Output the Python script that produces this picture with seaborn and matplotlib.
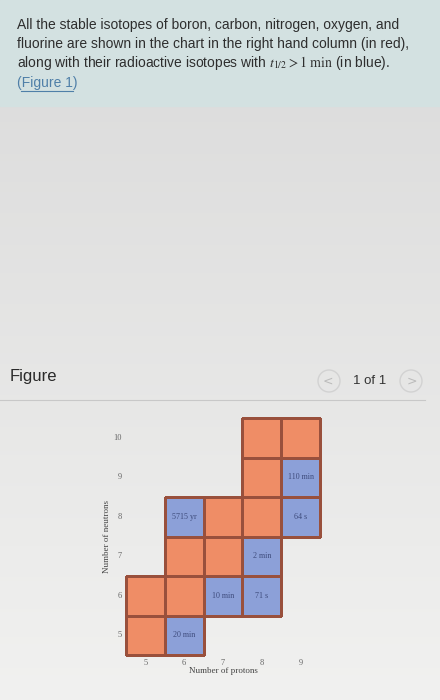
import seaborn as sns
import pandas as pd
import numpy as np
import matplotlib.pyplot as plt
from matplotlib.colors import ListedColormap, to_rgba
from matplotlib.patches import Circle, Rectangle

# Data: stable isotopes (red) and radioactive isotopes with t1/2 > 1 min (blue)
protons = [5, 6, 7, 8, 9]
neutrons = [10, 9, 8, 7, 6, 5]
stable_z = [5, 5, 6, 6, 7, 7, 8, 8, 8, 9]
stable_n = [5, 6, 6, 7, 7, 8, 8, 9, 10, 10]
radio_z = [6, 6, 7, 8, 8, 9, 9]
radio_n = [5, 8, 6, 6, 7, 8, 9]
half_lives = ["20 min", "5715 yr", "10 min", "71 s", "2 min", "64 s", "110 min"]

orange = "#EF8D66"
blue = "#8CA0D8"
edge = "#99503C"

rows = [{"Z": z, "N": n, "kind": 0, "label": ""} for z, n in zip(stable_z, stable_n)]
rows += [{"Z": z, "N": n, "kind": 1, "label": h} for z, n, h in zip(radio_z, radio_n, half_lives)]
df = pd.DataFrame(rows)
kind = df.pivot(index="N", columns="Z", values="kind").reindex(index=neutrons, columns=protons)
labels = df.pivot(index="N", columns="Z", values="label").reindex(index=neutrons, columns=protons).fillna("")

W, H = 440, 700
fig = plt.figure(figsize=(W / 100, H / 100), dpi=100)

# page background (photo of a screen)
bg = fig.add_axes([0, 0, 1, 1])
grad = np.linspace(0, 1, 200)
page = np.ones((200, 1, 3))
top = np.array([0.855, 0.855, 0.855])
bottom = np.array([0.945, 0.945, 0.94])
for i in range(3):
    page[:, 0, i] = top[i] + (bottom[i] - top[i]) * grad
bg.imshow(page, aspect="auto", extent=[0, W, H, 0])
bg.add_patch(Rectangle((0, 0), W, 106, color="#D3E1E1", zorder=2))
bg.plot([0, 425], [400, 400], color="#C8C8C8", lw=0.8, zorder=3)
bg.add_patch(Circle((329, 381), 11, fill=False, ec="#D2D2D2", lw=1.0, zorder=3))
bg.add_patch(Circle((411, 381), 11, fill=False, ec="#D2D2D2", lw=1.0, zorder=3))
bg.text(328, 381, "<", ha="center", va="center", color="#BBBBBB", fontsize=9, zorder=4)
bg.text(412, 381, ">", ha="center", va="center", color="#BBBBBB", fontsize=9, zorder=4)
bg.set_xlim(0, W)
bg.set_ylim(H, 0)
bg.axis("off")

plt.rcParams["mathtext.fontset"] = "stix"
body = dict(fontsize=10, color="#2E2E2E", family="Liberation Sans", va="center")
fig.text(17 / W, 1 - 25 / H, "All the stable isotopes of boron, carbon, nitrogen, oxygen, and", **body)
fig.text(17 / W, 1 - 44 / H, "fluorine are shown in the chart in the right hand column (in red),", **body)
fig.text(17 / W, 1 - 63 / H, r"along with their radioactive isotopes with $t_{1/2} > 1\ \mathrm{min}$ (in blue).", **body)
fig.text(17 / W, 1 - 83 / H, "(Figure 1)", fontsize=10, color="#4F7FA8",
         family="Liberation Sans", va="center")
bg.plot([21, 73], [91, 91], color="#4F7FA8", lw=0.8, zorder=3)
fig.text(10 / W, 1 - 376 / H, "Figure", fontsize=12, color="#2A2A2A", family="Liberation Sans",
         va="center")
fig.text(353 / W, 1 - 381 / H, "1 of 1", fontsize=9.5, color="#333333", family="Liberation Sans",
         va="center")

# isotope chart
ax = fig.add_axes([126 / W, 1 - 655 / H, 194 / W, 237 / H])
sns.heatmap(kind, mask=kind.isna(), cmap=ListedColormap([orange, blue]), vmin=0, vmax=1,
            cbar=False, linewidths=0.9, linecolor=edge, annot=labels, fmt="",
            annot_kws={"fontsize": 5.8, "color": "#3E4B7C", "family": "Liberation Serif"}, ax=ax)
# no outline on empty cells, full outline on the outer cells
mesh = ax.collections[0]
empty = kind.isna().to_numpy().ravel()
mesh.set_edgecolors([(0, 0, 0, 0) if e else to_rgba(edge) for e in empty])
mesh.set_clip_on(False)
ax.set_facecolor("none")
ax.tick_params(length=0, labelsize=6, labelcolor="#666666")
ax.tick_params(axis="x", pad=3)
ax.tick_params(axis="y", pad=3)
for t in ax.get_xticklabels() + ax.get_yticklabels():
    t.set_family("Liberation Serif")
ax.set_yticklabels(neutrons, rotation=0)
ax.set_xticklabels(protons)
ax.set_xlabel("Number of protons", fontsize=6.5, family="Liberation Serif", color="#444444",
              labelpad=0)
ax.set_ylabel("Number of neutrons", fontsize=6.5, family="Liberation Serif", color="#444444",
              labelpad=2)

fig.savefig("out.png", dpi=100)
